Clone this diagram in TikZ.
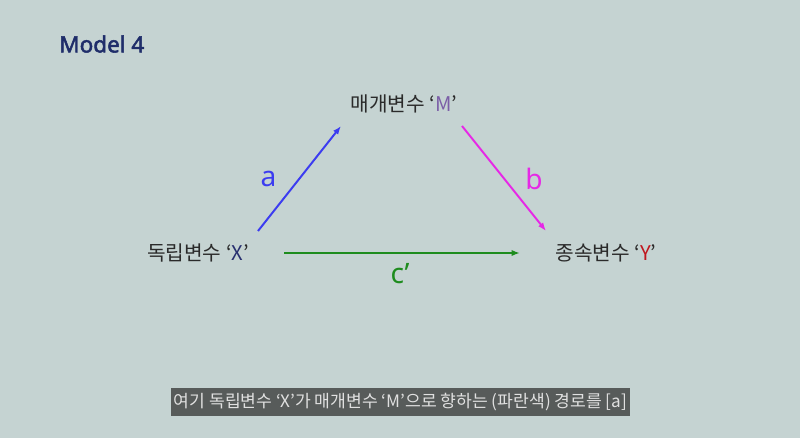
\documentclass[tikz,border=0pt]{standalone}
\usepackage{fontspec}
\setmainfont{Noto Sans CJK KR}
\newfontfamily\latinfont{Noto Sans}
\newfontfamily\titlefont{Noto Sans}[FakeBold=2.2]
\usetikzlibrary{arrows.meta}

\definecolor{bgcol}{HTML}{C5D3D2}
\definecolor{titlecol}{HTML}{1F2D6A}
\definecolor{textcol}{HTML}{2A2A2A}
\definecolor{xcol}{HTML}{283070}
\definecolor{mcol}{HTML}{7B5EA7}
\definecolor{ycol}{HTML}{C0161E}
\definecolor{acol}{HTML}{3C3CF0}
\definecolor{bcol}{HTML}{E628E6}
\definecolor{ccol}{HTML}{1E8C1E}
\definecolor{capcol}{HTML}{575B5A}

\tikzset{
  varnode/.style={text=textcol,font=\fontsize{14.4}{16}\selectfont,inner sep=0pt},
  conn/.style={line width=1.4pt,-{Latex[length=6pt,width=4.5pt]}},
  edgelabel/.style={font=\latinfont\fontsize{20}{22}\selectfont,inner sep=0pt}
}

\begin{document}
\begin{tikzpicture}[x=0.025cm,y=-0.025cm]
\fill[bgcol] (0,0) rectangle (800,438);
\useasboundingbox (0,0) rectangle (800,438);

\node[anchor=west,text=titlecol,font=\titlefont\fontsize{16}{18}\selectfont,inner sep=0pt] (title) at (59,44) {Model 4};

\node[varnode] (M) at (404,104) {매개변수 ‘\textcolor{mcol}{M}’};
\node[varnode] (X) at (198,253) {독립변수 ‘\textcolor{xcol}{X}’};
\node[varnode] (Y) at (606,253) {종속변수 ‘\textcolor{ycol}{Y}’};

\draw[conn,acol] ([shift={(60,-22)}]X.center) -- ([shift={(-63,22)}]M.center)
  node[edgelabel,text=acol,midway,shift={(-31,0)}] (la) {a};
\draw[conn,bcol] ([shift={(58,22)}]M.center) -- ([shift={(-60,-22)}]Y.center)
  node[edgelabel,text=bcol,midway,shift={(30,0)}] (lb) {b};
\draw[conn,ccol] ([shift={(86,0)}]X.center) -- ([shift={(-86,0)}]Y.center)
  node[edgelabel,text=ccol,midway,shift={(-2,21)}] (lc) {c’};

\node[fill=capcol,text=white!88!black,font=\fontsize{12.2}{14}\selectfont,
  minimum height=25*0.025cm,inner xsep=2pt] (caption) at (400.5,402)
  {여기 독립변수 ‘X’가 매개변수 ‘M’으로 향하는 (파란색) 경로를 [a]};
\end{tikzpicture}
\end{document}
